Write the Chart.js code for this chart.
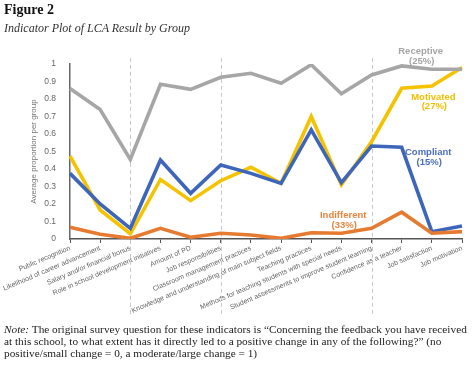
<!DOCTYPE html>
<html>
<head>
<meta charset="utf-8">
<script src="https://cdn.jsdelivr.net/npm/chart.js@4"></script>
<style>
  html, body { margin: 0; padding: 0; background: #fff; }
  #wrap { position: relative; width: 474px; height: 366px; overflow: hidden; }
  #fig { position: absolute; left: 4px; top: 2px; font-family: "Liberation Serif", "DejaVu Serif", serif; font-weight: bold; font-size: 14px; color: #111; }
  #sub { position: absolute; left: 4px; top: 21px; font-family: "Liberation Serif", "DejaVu Serif", serif; font-style: italic; font-size: 12px; color: #333; }
  #note { position: absolute; left: 4px; top: 323px; width: 470px; font-family: "Liberation Serif", "DejaVu Serif", serif; font-size: 11.3px; line-height: 12px; color: #222; }
  canvas { position: absolute; left: 0; top: 0; }
</style>
</head>
<body>
<div id="wrap">
  <canvas id="c" width="474" height="366"></canvas>
  <div id="fig">Figure 2</div>
  <div id="sub">Indicator Plot of LCA Result by Group</div>
  <div id="note"><i>Note:</i> The original survey question for these indicators is “Concerning the feedback you have received at this school, to what extent has it directly led to a positive change in any of the following?” (no positive/small change = 0, a moderate/large change = 1)</div>
</div>
<script>
const categories = [
  "Public recognition",
  "Likelihood of career advancement",
  "Salary and/or financial bonus",
  "Role in school development initiatives",
  "Amount of PD",
  "Job responsibilities",
  "Classroom management practices",
  "Knowledge and understanding of main subject fields",
  "Teaching practices",
  "Methods for teaching students with special needs",
  "Student assessments to improve student learning",
  "Confidence as a teacher",
  "Job satisfaction",
  "Job motivation"
];
const receptive   = [0.86, 0.74, 0.455, 0.884, 0.855, 0.924, 0.947, 0.89, 0.996, 0.83, 0.937, 0.989, 0.97, 0.97];
const motivated   = [0.474, 0.166, 0.03, 0.34, 0.219, 0.333, 0.41, 0.318, 0.70, 0.309, 0.556, 0.861, 0.874, 0.98];
const compliant   = [0.375, 0.20, 0.061, 0.451, 0.261, 0.423, 0.375, 0.318, 0.623, 0.322, 0.531, 0.524, 0.042, 0.074];
const indifferent = [0.067, 0.027, 0.004, 0.061, 0.01, 0.033, 0.023, 0.004, 0.036, 0.033, 0.061, 0.153, 0.033, 0.042];
const yTicks = [0, 0.1, 0.2, 0.3, 0.4, 0.5, 0.6, 0.7, 0.8, 0.9, 1];
const dividerIndices = [2, 5, 10];
// group labels: [line1, line2, category position, value position, colour]
const groupLabels = [
  ["Receptive", "(25%)", 11.63, 1.07, "#a6a6a6"],
  ["Motivated", "(27%)", 12.05, 0.81, "#f0c000"],
  ["Compliant", "(15%)", 11.88, 0.494, "#4a6fc0"],
  ["Indifferent", "(33%)", 9.06, 0.134, "#e8843c"]
];

const GREY = "#a6a6a6", YEL = "#f5c200", BLUE = "#3d66bb", ORA = "#e67a30";

const overlay = {
  id: "overlay",
  beforeDatasetsDraw(chart) {
    const {ctx, scales: {x, y}} = chart;
    ctx.save();
    ctx.strokeStyle = "#c8c8c8";
    ctx.lineWidth = 1;
    ctx.setLineDash([4, 3]);
    dividerIndices.forEach(i => {
      const px = Math.round(x.getPixelForValue(i)) + 0.5;
      ctx.beginPath();
      ctx.moveTo(px, y.getPixelForValue(1.035));
      ctx.lineTo(px, 316);
      ctx.stroke();
    });
    ctx.restore();
  },
  afterDatasetsDraw(chart) {
    const {ctx, scales: {x, y}} = chart;
    ctx.save();
    ctx.font = "bold 9.5px 'Liberation Sans', Arial, sans-serif";
    ctx.textAlign = "center";
    ctx.textBaseline = "middle";
    groupLabels.forEach(([a, b, ci, v, col]) => {
      const px = x.getPixelForValue(ci);
      const py = y.getPixelForValue(v);
      ctx.fillStyle = col;
      ctx.fillText(a, px, py);
      ctx.fillText(b, px + 1, py + 9.5);
    });
    ctx.restore();
  }
};

const ds = (label, data, color) => ({
  label, data, borderColor: color, backgroundColor: color,
  borderWidth: 3.6, pointRadius: 0, tension: 0, borderJoinStyle: "miter", borderCapStyle: "butt"
});

new Chart(document.getElementById("c"), {
  type: "line",
  data: {
    labels: categories,
    datasets: [
      ds("Indifferent", indifferent, ORA),
      ds("Compliant", compliant, BLUE),
      ds("Receptive", receptive, GREY),
      ds("Motivated", motivated, YEL)
    ]
  },
  options: {
    responsive: false,
    animation: false,
    devicePixelRatio: 1,
    layout: { padding: { top: 64, right: 12, left: 0, bottom: 0 } },
    plugins: { legend: { display: false }, tooltip: { enabled: false } },
    scales: {
      x: {
        type: "category",
        offset: false,
        afterFit(s) { s.height = 127; },
        grid: { drawOnChartArea: false, drawTicks: true, tickLength: 4, color: "#555" },
        border: { display: true, color: "#555", width: 1.5 },
        ticks: {
          autoSkip: false, minRotation: 23, maxRotation: 23, padding: 1,
          color: "#666", font: { family: "'Liberation Sans', Arial, sans-serif", size: 7 }
        }
      },
      y: {
        min: 0, max: 1,
        afterFit(s) { s.width = 70; },
        afterBuildTicks(s) { s.ticks = yTicks.map(v => ({ value: v })); },
        grid: { display: false },
        border: { display: true, color: "#666", width: 1.5 },
        ticks: {
          padding: 6, color: "#666",
          font: { family: "'Liberation Sans', Arial, sans-serif", size: 8.5 },
          callback: v => String(Math.round(v * 10) / 10)
        },
        title: {
          display: true, text: "Average proportion per group", color: "#777",
          padding: { top: 29, bottom: 0 },
          font: { family: "'Liberation Sans', Arial, sans-serif", size: 8 }
        }
      }
    }
  },
  plugins: [overlay]
});
</script>
</body>
</html>
